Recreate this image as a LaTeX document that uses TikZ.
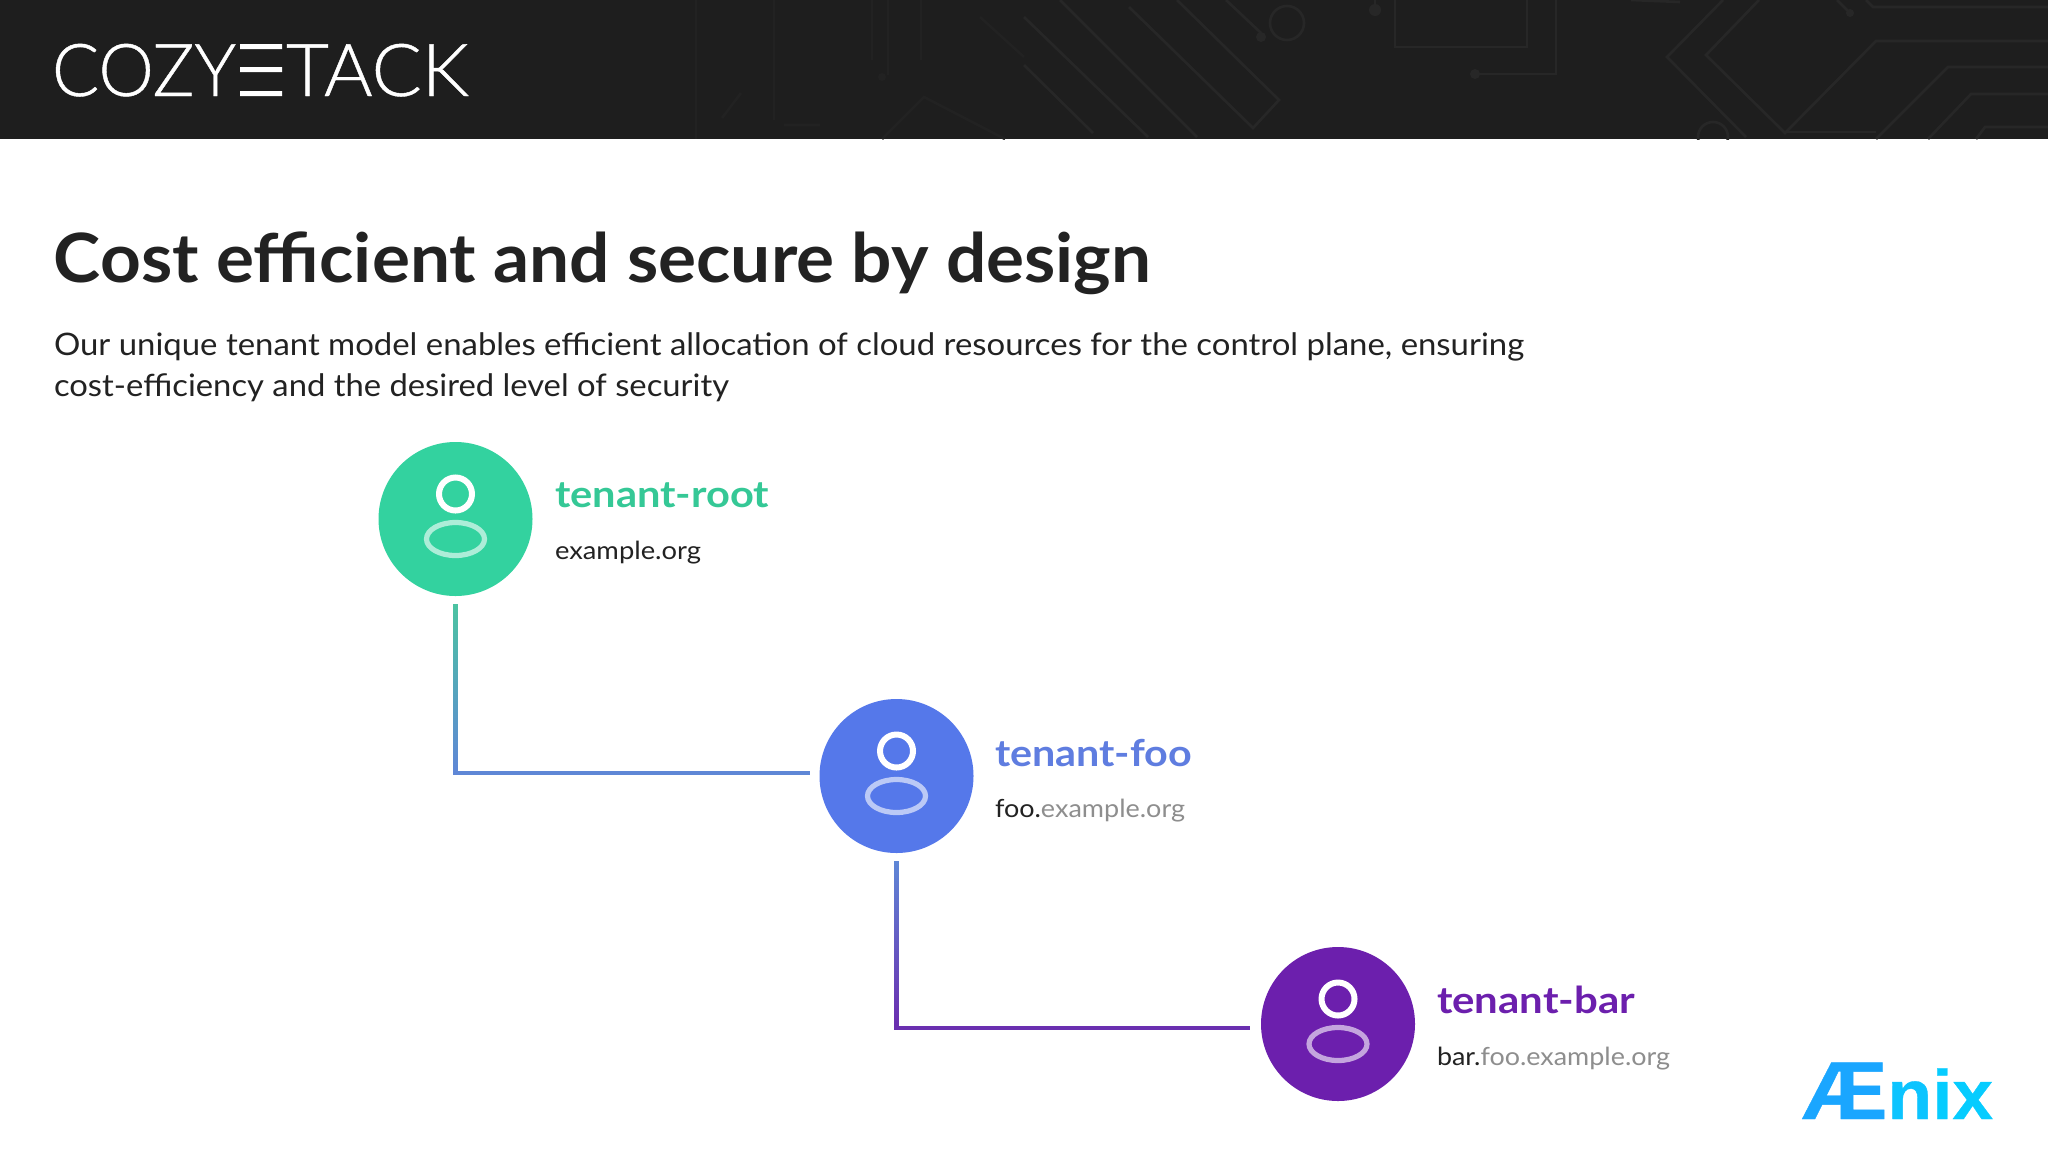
\documentclass[tikz,border=0pt]{standalone}
\usepackage{graphicx}
\usepackage{fontspec}
\setmainfont{Lato}
\newfontfamily\logofont{Lato Light}[FakeBold=0.6]
\newfontfamily\anixfont{Liberation Sans}[BoldFont=* Bold,BoldFeatures={FakeBold=0.5}]
\usetikzlibrary{calc}
\definecolor{band}{HTML}{1E1E1E}
\definecolor{trace}{HTML}{272727}
\definecolor{tracefaint}{HTML}{222222}
\definecolor{ink}{HTML}{222222}
\definecolor{muted}{HTML}{8E8E8E}
\definecolor{rootc}{HTML}{33D29F}
\definecolor{roott}{HTML}{35C896}
\definecolor{fooc}{HTML}{5578EA}
\definecolor{foot}{HTML}{5F7DE0}
\definecolor{barc}{HTML}{6C1FAD}
\definecolor{linkg}{HTML}{4CC3A2}
\definecolor{linkb}{HTML}{5F87D6}
\definecolor{linkp}{HTML}{6A2FB0}
\newcommand{\fit}[2]{\resizebox{#1pt}{\height}{#2}}
\tikzset{
  x=0.5pt,y=-0.5pt,
  txt/.style={anchor=base west,inner sep=0pt,outer sep=0pt},
  avatar/.style={circle,minimum size=77pt,inner sep=0pt,fill=#1},
  head/.style={draw=white,line width=3pt,fill=none},
  body/.style={draw=white,draw opacity=.6,line width=2.6pt,fill=none},
  tname/.style={txt,font=\fontsize{18.5}{22}\selectfont\bfseries},
  tdom/.style={txt,font=\fontsize{12.5}{15}\selectfont,text=ink},
  link/.style={line width=2.4pt,line join=miter},
  tr/.style={draw=trace,line width=1.3pt},
  trf/.style={draw=tracefaint,line width=1.3pt},
}
\begin{document}
\begin{tikzpicture}
\useasboundingbox (0,0) rectangle (2048,1152);
\fill[white] (0,0) rectangle (2048,1152);
\fill[band] (0,0) rectangle (2048,139);
% circuit traces
\begin{scope}
\clip (0,0) rectangle (2048,139);
\draw[trf] (696,0)--(696,139) (774,0)--(774,120) (872,0)--(872,60) (888,0)--(888,75) (921,0)--(921,60);
\draw[trf] (980,17)--(1024,57) (741,93)--(722,118) (784,125)--(820,125) (882,139)--(924,97)--(1005,139);
\fill[tracefaint] (882,77) circle (4);
\draw[tr] (1060,0)--(1197,137) (1024,17)--(1148,137) (1024,65)--(1093,133);
\draw[tr] (1177,0)--(1279,100)--(1253,128)--(1129,7);
\draw[tr] (1287,23) circle (17);
\draw[tr] (1226,0)--(1261,33);
\fill[trace] (1261,37) circle (5) (1375,10) circle (6) (1475,74) circle (5) (1850,13) circle (4);
\draw[tr] (1375,0)--(1375,10);
\draw[tr] (1395,0)--(1395,47)--(1527,47)--(1527,0);
\draw[tr] (1556,0)--(1556,74)--(1475,74);
\draw[tr] (1723,0)--(1667,57)--(1746,137);
\draw[tr] (1759,0)--(1706,55)--(1785,133)--(1876,41)--(2048,41);
\draw[tr] (1876,139)--(1948,67)--(2048,67);
\draw[tr] (1928,139)--(1971,94)--(2048,94);
\draw[tr] (1976,139)--(1985,127)--(2048,127);
\draw[tr] (1785,132)--(1876,132);
\draw[tr] (1713,137) circle (15);
\draw[tr] (1866,0)--(1873,7)--(2048,7);
\draw[tr] (1837,0)--(1850,13);
\draw[tr] (1631,0)--(1680,2);
\end{scope}
% logo
\node[txt,text=white,font=\logofont\fontsize{36.5}{40}\selectfont] (cozy) at (52,96) {\fit{92}{COZY}};
\node[txt,text=white,font=\logofont\fontsize{36.5}{40}\selectfont] (tack) at (286,96) {\fit{91.5}{TACK}};
\fill[white] (240,44) rectangle (282,49) (240,67) rectangle (282,72) (240,91) rectangle (282,96);
% heading
\node[txt,text=ink,font=\fontsize{34}{40}\selectfont\bfseries] (title) at (54,282) {\fit{548.5}{Cost efficient and secure by design}};
\node[txt,text=ink,font=\fontsize{15.5}{20}\selectfont] (sub1) at (54,355) {\fit{735}{Our unique tenant model enables efficient allocation of cloud resources for the control plane, ensuring}};
\node[txt,text=ink,font=\fontsize{15.5}{20}\selectfont] (sub2) at (54,396.5) {\fit{337.5}{cost-efficiency and the desired level of security}};
% tenants
\node[avatar=rootc] (root) at (455.5,519) {};
\node[avatar=fooc] (foo) at (896.5,776) {};
\node[avatar=barc] (bar) at (1338,1024) {};
\foreach \n/\c in {root/rootc,foo/fooc,bar/barc}{
  \draw[head] ($(\n)+(0,-25)$) circle (16.5);
  \draw[body] ($(\n)+(0,20)$) ellipse (29 and 16.5);
}
\node[tname,text=roott] (rootname) at (555,507) {\fit{107}{tenant-root}};
\node[tdom] (rootdom) at (555,559) {\fit{73}{example.org}};
\node[tname,text=foot] (fooname) at (995,766) {\fit{98.5}{tenant-foo}};
\node[tdom] (foodom) at (995,817) {\fit{95}{foo.{\color{muted}example.org}}};
\node[tname,text=barc] (barname) at (1437,1013) {\fit{99}{tenant-bar}};
\node[tdom] (bardom) at (1437,1065) {\fit{116.5}{bar.{\color{muted}foo.example.org}}};
% connectors
\draw[link,linkb] ($(root.south)+(0,8)$) |- ($(foo.west)+(-9,-3)$);
\shade[top color=linkg,bottom color=linkb] ($(root.south)+(-2.4,8)$) rectangle ($(root.south)+(2.4,175)$);
\draw[link,linkp] ($(foo.south)+(0,8)$) |- ($(bar.west)+(-11,4)$);
\shade[top color=linkb,bottom color=linkp] ($(foo.south)+(-2.4,8)$) rectangle ($(foo.south)+(2.4,170)$);
% AEnix logo
\node[txt,font=\anixfont\bfseries] (aenix) at (1802,1119) {\fit{95.5}{{\fontsize{41}{44}\selectfont\color[HTML]{1AA6FF}Æ}{\fontsize{35}{40}\selectfont\color[HTML]{0CC4FF}n\color[HTML]{06CCFF}ix}}};
\end{tikzpicture}
\end{document}
